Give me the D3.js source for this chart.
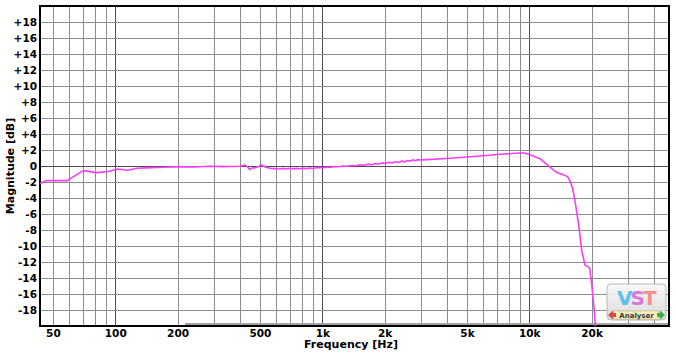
<!DOCTYPE html>
<html>
<head>
<meta charset="utf-8">
<script src="https://cdn.jsdelivr.net/npm/d3@7"></script>
<style>
  body { margin: 0; background: #fff; }
  text { font-family: "DejaVu Sans", Verdana, sans-serif; font-weight: bold; }
</style>
</head>
<body>
<div class="canvas"></div>
<script>
// frequency response (Hz / dB)
const freqs = [43, 46.5, 58.5, 70, 81, 92, 103, 115, 127, 140, 160, 185, 206, 240, 287, 330, 400,
  424, 437, 445, 460, 473, 495, 509, 530, 559, 580,
  600, 620, 645, 670, 700, 725, 750, 780, 810, 840, 870, 900, 935, 975, 1010, 1050, 1100, 1150,
  1200, 1260, 1320, 1390, 1450, 1520, 1590, 1660, 1730, 1800, 1870, 1950, 2020, 2100, 2180,
  2260, 2340, 2420, 2500, 2580, 2660, 2740, 2820, 2900, 2965, 3050,
  4138, 5000, 6200, 7217, 8990, 9500, 10070, 11270, 12590, 13500, 14600, 15300, 15700, 16200,
  16600, 17300, 17900, 18600, 19300, 19600, 20000, 20600, 21100];
const magnitudes = [-2.2, -1.8, -1.8, -0.55, -0.8, -0.65, -0.35, -0.5, -0.25, -0.2, -0.15, -0.1, -0.05, -0.1, 0, -0.05, 0,
  0.15, -0.1, -0.4, -0.2, -0.2, 0, 0.15, -0.1, -0.25, -0.3,
  -0.28, -0.34, -0.27, -0.33, -0.25, -0.33, -0.27, -0.32, -0.24, -0.3, -0.22, -0.28, -0.18, -0.15, -0.18, -0.1, -0.12, -0.04,
  -0.06, 0.03, 0, 0.1, 0.06, 0.18, 0.12, 0.26, 0.2, 0.34, 0.26, 0.42, 0.34, 0.5, 0.4,
  0.56, 0.48, 0.65, 0.55, 0.72, 0.62, 0.8, 0.7, 0.84, 0.78, 0.8,
  1.0, 1.15, 1.35, 1.5, 1.65, 1.65, 1.45, 0.95, -0.1, -0.75, -1.05, -1.3, -1.8, -2.8,
  -4.25, -7.2, -10.5, -12.4, -12.6, -12.8, -14.7, -18, -22];

// grid + tick labels
const xGridValues = [50, 60, 70, 80, 90, 100, 200, 300, 400, 500, 600, 700, 800, 900, 1000,
  2000, 3000, 4000, 5000, 6000, 7000, 8000, 9000, 10000, 20000, 30000, 40000];
const xMajorValues = [100, 1000, 10000];
const xTickValues = [50, 100, 200, 500, 1000, 2000, 5000, 10000, 20000];
const xTickLabels = ['50', '100', '200', '500', '1k', '2k', '5k', '10k', '20k'];
const yTickValues = [18, 16, 14, 12, 10, 8, 6, 4, 2, 0, -2, -4, -6, -8, -10, -12, -14, -16, -18];
const yTickLabels = ['+18', '+16', '+14', '+12', '+10', '+8', '+6', '+4', '+2', '0',
  '-2', '-4', '-6', '-8', '-10', '-12', '-14', '-16', '-18'];

const W = 676, H = 353;
const plot = {left: 40, right: 669, top: 6.5, bottom: 326};

const svg = d3.select('.canvas').append('svg')
  .attr('width', W).attr('height', H);

const x = d3.scaleLog().domain([43.3, 47300]).range([plot.left, plot.right]);
const y = d3.scaleLinear().domain([-20, 20]).range([plot.bottom, plot.top]);

const snap = v => Math.round(v) + 0.5;

// vertical grid
svg.append('g').selectAll('line')
  .data(xGridValues)
  .enter().append('line')
  .attr('x1', d => snap(x(d))).attr('x2', d => snap(x(d)))
  .attr('y1', plot.top).attr('y2', plot.bottom)
  .attr('stroke', d => xMajorValues.includes(d) ? '#4c4c4c' : '#8c8c8c')
  .attr('stroke-width', 1)
  .attr('shape-rendering', 'crispEdges');

// horizontal grid
svg.append('g').selectAll('line')
  .data(yTickValues)
  .enter().append('line')
  .attr('x1', plot.left).attr('x2', plot.right)
  .attr('y1', d => snap(y(d))).attr('y2', d => snap(y(d)))
  .attr('stroke', d => d === 0 ? '#4c4c4c' : '#8c8c8c')
  .attr('stroke-width', 1)
  .attr('shape-rendering', 'crispEdges');

// grey range strip along the bottom
svg.append('rect')
  .attr('x', 185).attr('y', 323)
  .attr('width', plot.right - 185).attr('height', 3)
  .attr('fill', '#a4a4a4');

// frame
svg.append('rect')
  .attr('x', plot.left).attr('y', plot.top - 0.5)
  .attr('width', plot.right - plot.left).attr('height', plot.bottom - plot.top + 0.5)
  .attr('fill', 'none').attr('stroke', '#000').attr('stroke-width', 2);

// curve
svg.append('clipPath').attr('id', 'clip')
  .append('rect')
  .attr('x', plot.left).attr('y', plot.top)
  .attr('width', plot.right - plot.left).attr('height', plot.bottom - plot.top);

const points = freqs.map((f, i) => ({f: f, m: magnitudes[i]}));
const line = d3.line().x(d => x(d.f)).y(d => y(d.m));

svg.append('path')
  .datum(points)
  .attr('clip-path', 'url(#clip)')
  .attr('d', line)
  .attr('fill', 'none')
  .attr('stroke', '#f53ef5')
  .attr('stroke-width', 1.6)
  .attr('stroke-linejoin', 'round');

// axes (labels only)
const yAxis = d3.axisLeft(y)
  .tickValues(yTickValues)
  .tickSize(0).tickPadding(2)
  .tickFormat((d, i) => yTickLabels[i]);
const gy = svg.append('g').attr('transform', `translate(${plot.left - 1},0)`).call(yAxis);

const xAxis = d3.axisBottom(x)
  .tickValues(xTickValues)
  .tickSize(0).tickPadding(4)
  .tickFormat((d, i) => xTickLabels[i]);
const gx = svg.append('g').attr('transform', `translate(0,${plot.bottom})`).call(xAxis);

[gx, gy].forEach(g => {
  g.select('.domain').remove();
  g.selectAll('text')
    .attr('font-family', '"DejaVu Sans", Verdana, sans-serif')
    .attr('font-weight', 'bold')
    .attr('font-size', 10.5)
    .attr('fill', '#000');
});

svg.append('text')
  .attr('x', 351).attr('y', 348)
  .attr('text-anchor', 'middle')
  .attr('font-size', 11)
  .text('Frequency [Hz]');

svg.append('text')
  .attr('transform', 'translate(14,166) rotate(-90)')
  .attr('text-anchor', 'middle')
  .attr('font-size', 11)
  .text('Magnitude [dB]');

// VST Analyser badge
const defs = svg.append('defs');
const grad = defs.append('linearGradient').attr('id', 'badge').attr('x1', 0).attr('y1', 0).attr('x2', 0).attr('y2', 1);
grad.append('stop').attr('offset', '0%').attr('stop-color', '#fafafa');
grad.append('stop').attr('offset', '100%').attr('stop-color', '#d6d6d6');

const logo = svg.append('g').attr('transform', 'translate(607,284)');
logo.append('rect')
  .attr('width', 59).attr('height', 36).attr('rx', 4)
  .attr('fill', 'url(#badge)').attr('stroke', '#b4b4b4').attr('stroke-width', 1)
  .attr('opacity', 0.92);
const vst = logo.append('text').attr('x', 10).attr('y', 21).attr('font-size', 20)
  .attr('letter-spacing', -2);
vst.append('tspan').attr('fill', '#5cc0ec').text('V');
vst.append('tspan').attr('fill', '#d878d8').text('S');
vst.append('tspan').attr('fill', '#f29090').text('T');
logo.append('rect')
  .attr('x', 7).attr('y', 27).attr('width', 45).attr('height', 8)
  .attr('fill', '#f8efbe').attr('stroke', '#c9b577').attr('stroke-width', 0.6);
logo.append('path')
  .attr('d', 'M1,31 L6,26.5 L6,29 L9,29 L9,33 L6,33 L6,35.5 Z')
  .attr('fill', '#e0483c');
logo.append('path')
  .attr('d', 'M58,31 L53,26.5 L53,29 L50,29 L50,33 L53,33 L53,35.5 Z')
  .attr('fill', '#3cae4c');
logo.append('text').attr('x', 29.5).attr('y', 34.2)
  .attr('text-anchor', 'middle').attr('font-size', 7)
  .attr('fill', '#333').text('Analyser');
</script>
</body>
</html>
